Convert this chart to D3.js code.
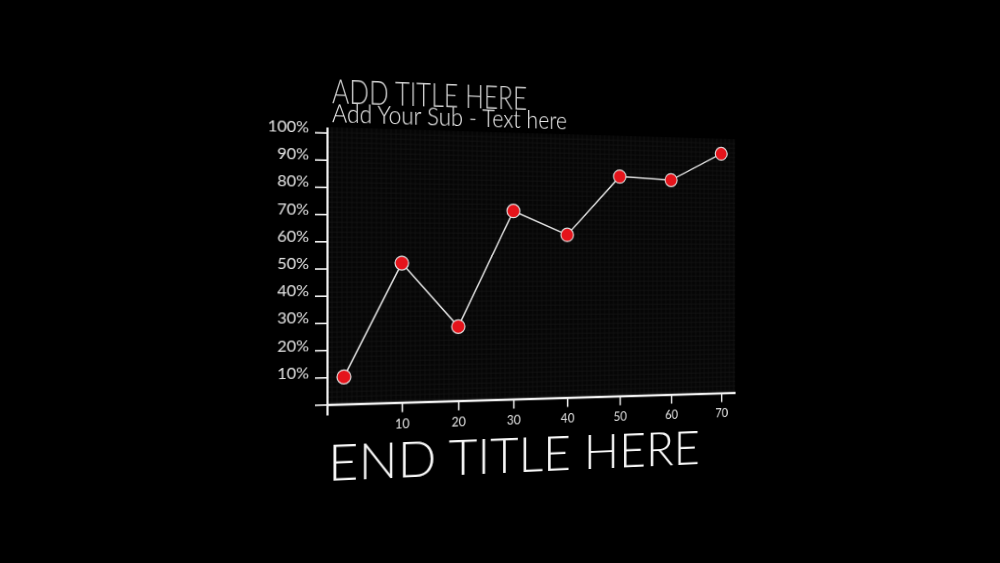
<!DOCTYPE html>
<html>
<head>
<meta charset="utf-8">
<script src="https://cdn.jsdelivr.net/npm/d3@7"></script>
<style>
  html, body { margin: 0; padding: 0; background: #000; overflow: hidden; }
  #stage { position: absolute; left: 0; top: 0; width: 1000px; height: 563px; }
  svg { display: block; font-family: Lato, "Open Sans", sans-serif; }
</style>
</head>
<body>
<div id="stage"></div>
<script>
// ---- data ----
const xValues = [0, 10, 20, 30, 40, 50, 60, 70];
const yValues = [10, 52, 28, 72, 63, 86, 85, 96];
const xTickValues = [10, 20, 30, 40, 50, 60, 70];
const yTickValues = [0, 10, 20, 30, 40, 50, 60, 70, 80, 90, 100];
const titleText = "ADD TITLE HERE";
const subtitleText = "Add Your Sub - Text here";
const endTitleText = "END TITLE HERE";

// ---- layout (flat plane, later put into perspective) ----
const W = 1000, H = 563;
const FONT = "Lato, 'Open Sans', sans-serif";
const stage = d3.select("#stage");
const svg = stage.append("svg").attr("width", W).attr("height", H);

// perspective of the whole plane (right side farther away)
const k = 2.1264e-4;
svg.style("transform-origin", "327px 266.5px")
   .style("transform", `matrix3d(1,0,0,${k}, 0,1,0,0, 0,0,1,0, 0,0,0,1)`);

const x = d3.scaleLinear().domain([-2.88, 72.84]).range([327, 774]);
const y = d3.scaleLinear().domain([-3.9, 102]).range([415.1, 127.1]);

const panelX0 = x.range()[0], panelX1 = x.range()[1];
const panelY0 = y(102), panelY1 = y(0);

// panel background + fine grid
const panel = svg.append("g");
panel.append("rect")
  .attr("x", panelX0).attr("y", panelY0)
  .attr("width", panelX1 - panelX0).attr("height", panelY1 - panelY0)
  .attr("fill", "#060606");
const gridStep = 5;
panel.selectAll("line.v").data(d3.range(panelX0 + gridStep, panelX1, gridStep)).join("line")
  .attr("class", "v")
  .attr("x1", d => d).attr("x2", d => d)
  .attr("y1", panelY0).attr("y2", panelY1)
  .attr("stroke", "#181818").attr("stroke-width", 0.7);
panel.selectAll("line.h").data(d3.range(panelY0 + gridStep, panelY1, gridStep)).join("line")
  .attr("class", "h")
  .attr("y1", d => d).attr("y2", d => d)
  .attr("x1", panelX0).attr("x2", panelX1)
  .attr("stroke", "#181818").attr("stroke-width", 0.7);

// y axis
const yAxis = d3.axisLeft(y)
  .tickValues(yTickValues)
  .tickSize(12)
  .tickSizeOuter(0)
  .tickPadding(6)
  .tickFormat(d => d === 0 ? "" : d + "%");
const gy = svg.append("g").attr("transform", `translate(${x.range()[0]},0)`).call(yAxis);
gy.attr("font-family", FONT);
gy.select(".domain").attr("stroke", "#f2f2f2").attr("stroke-width", 2.2);
gy.selectAll(".tick line").attr("stroke", "#f2f2f2").attr("stroke-width", 1.6);
gy.selectAll(".tick text")
  .attr("dy", "0")
  .attr("fill", "#e4e4e4")
  .style("font-family", FONT)
  .style("font-size", "16px")
  .style("font-weight", 400);

// x axis
const xAxis = d3.axisBottom(x)
  .tickValues(xTickValues)
  .tickSize(10)
  .tickSizeOuter(0)
  .tickPadding(7);
const gx = svg.append("g").attr("transform", `translate(0,${y(0)})`).call(xAxis);
gx.attr("font-family", FONT);
gx.select(".domain").attr("stroke", "#f2f2f2").attr("stroke-width", 2.4);
gx.selectAll(".tick line").attr("stroke", "#f2f2f2").attr("stroke-width", 1.6);
gx.selectAll(".tick text")
  .attr("fill", "#e4e4e4")
  .style("font-family", FONT)
  .style("font-size", "13px")
  .style("font-weight", 400);

// line + points
const data = xValues.map((v, i) => ({ x: v, y: yValues[i] }));
svg.append("path")
  .datum(data)
  .attr("fill", "none")
  .attr("stroke", "#e6e6e6")
  .attr("stroke-width", 1.5)
  .attr("d", d3.line().x(d => x(d.x)).y(d => y(d.y)));
svg.selectAll("circle.pt").data(data).join("circle")
  .attr("class", "pt")
  .attr("cx", d => x(d.x)).attr("cy", d => y(d.y))
  .attr("r", 7)
  .attr("fill", "#e5141b")
  .attr("stroke", "#e0e0e0")
  .attr("stroke-width", 1.2);

// titles
svg.append("text")
  .attr("x", 332).attr("y", 103)
  .attr("fill", "#cfcfcf")
  .attr("textLength", 204).attr("lengthAdjust", "spacingAndGlyphs")
  .style("font-size", "34px").style("font-weight", 300)
  .text(titleText);
svg.append("text")
  .attr("x", 332).attr("y", 122)
  .attr("fill", "#f2f2f2")
  .attr("textLength", 248).attr("lengthAdjust", "spacingAndGlyphs")
  .style("font-size", "25px").style("font-weight", 300)
  .text(subtitleText);
svg.append("text")
  .attr("x", 328).attr("y", 481)
  .attr("fill", "#f6f6f6")
  .attr("textLength", 404).attr("lengthAdjust", "spacingAndGlyphs")
  .style("font-size", "51px").style("font-weight", 300)
  .text(endTitleText);
</script>
</body>
</html>
